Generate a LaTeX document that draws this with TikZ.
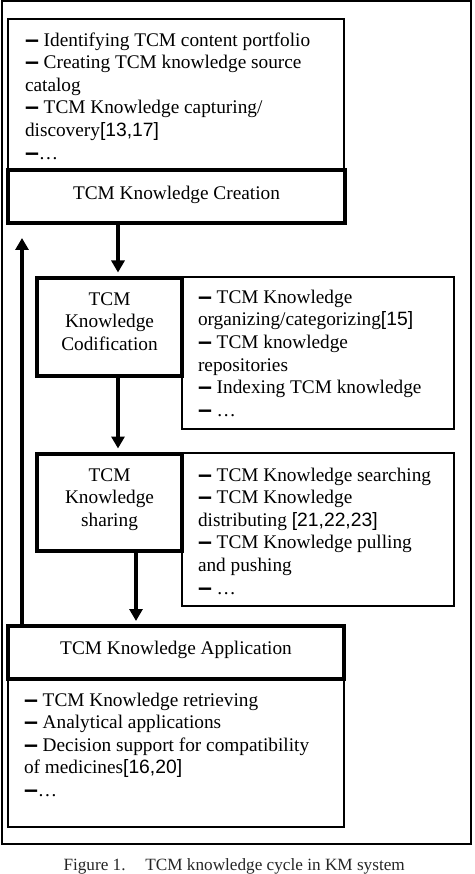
\documentclass[tikz,border=0pt]{standalone}
\usepackage{fontspec}
\usepackage{graphicx}
\setmainfont{Liberation Serif}
\newfontfamily\numf{Liberation Sans}
\newfontfamily\dashf{DejaVu Sans}
\usetikzlibrary{arrows.meta}
\newcommand\dsh{\scalebox{0.72}[1]{\dashf\bfseries —}}
\newcommand\nm[1]{{\numf #1}}
\tikzset{
  thinbox/.style={draw, line width=2pt, inner sep=0pt, outer sep=0pt, anchor=north west},
  thickbox/.style={draw, line width=4pt, inner sep=0pt, outer sep=0pt, anchor=north west},
  txt/.style={inner sep=0pt, outer sep=0pt, font=\fontsize{19.3}{22.6}\selectfont},
  arr/.style={line width=3.2pt, -{Triangle[length=12pt,width=13pt]}, shorten >=5pt},
}
\begin{document}
\begin{tikzpicture}[x=1pt,y=-1pt]
\useasboundingbox (0,0) rectangle (474,874);
% outer frame
\node[draw, line width=2pt, inner sep=0pt, outer sep=0pt, anchor=north west,
      minimum width=469pt, minimum height=842.5pt] (frame) at (2,1.5) {};
% thin list boxes
\node[thinbox, minimum width=336pt, minimum height=151pt] (clist) at (8,19) {};
\node[thinbox, minimum width=272pt, minimum height=152pt] (codlist) at (182,277) {};
\node[thinbox, minimum width=272pt, minimum height=153pt] (shalist) at (182,453) {};
\node[thinbox, minimum width=336pt, minimum height=148pt] (applist) at (8,679) {};
% thick stage boxes
\node[thickbox, minimum width=337pt, minimum height=52.5pt] (cre) at (8,170.5) {};
\node[thickbox, minimum width=145pt, minimum height=98pt] (cod) at (37,277.5) {};
\node[thickbox, minimum width=145pt, minimum height=97pt] (sha) at (37,453.5) {};
\node[thickbox, minimum width=336pt, minimum height=53pt] (app) at (8,626) {};
% stage labels
\node[txt, anchor=base] (crel) at (176.5,199.5) {TCM Knowledge Creation};
\node[txt, anchor=north, align=center] (codl) at (109.5,289.2) {\strut TCM\\Knowledge\\Codification};
\node[txt, anchor=north, align=center] (shal) at (109.5,465.2) {\strut TCM\\Knowledge\\sharing};
\node[txt, anchor=base] (appl) at (176,654) {TCM Knowledge Application};
% list texts
\node[txt, anchor=north west, align=left] (t1) at (25,30.2)
  {\strut\dsh{} Identifying TCM content portfolio\\ \dsh{} Creating TCM knowledge source\\catalog\\ \dsh{} TCM Knowledge capturing/\\discovery\nm{[13,17]}\\ \dsh…};
\node[txt, anchor=north west, align=left] (t2) at (198,287.5)
  {\strut\dsh{} TCM Knowledge\\organizing/categorizing\nm{[15]}\\ \dsh{} TCM knowledge\\repositories\\ \dsh{} Indexing TCM knowledge\\ \dsh{} …};
\node[txt, anchor=north west, align=left] (t3) at (198,465.2)
  {\strut\dsh{} TCM Knowledge searching\\ \dsh{} TCM Knowledge\\distributing \nm{[21,22,23]}\\ \dsh{} TCM Knowledge pulling\\and pushing\\ \dsh{} …};
\node[txt, anchor=north west, align=left] (t4) at (24,690.2)
  {\strut\dsh{} TCM Knowledge retrieving\\ \dsh{} Analytical applications\\ \dsh{} Decision support for compatibility\\of medicines\nm{[16,20]}\\ \dsh…};
% caption
\node[inner sep=0pt, anchor=base west, font=\fontsize{17.2}{20}\selectfont, text=black!85] (cap) at (63.3,870)
  {Figure 1.\hspace{1.15em}TCM knowledge cycle in KM system};
% arrows
\coordinate (ax1) at (118,0);
\coordinate (ax2) at (136,0);
\coordinate (ax3) at (22,0);
\coordinate (ret) at (22,238);
\draw[arr] (cre.south -| ax1) -- (cod.north -| ax1);
\draw[arr] (cod.south -| ax1) -- (sha.north -| ax1);
\draw[arr] (sha.south -| ax2) -- (app.north -| ax2);
\draw[arr, shorten >=0pt] ([yshift=2pt]app.north -| ax3) -- (ret);
\end{tikzpicture}
\end{document}
